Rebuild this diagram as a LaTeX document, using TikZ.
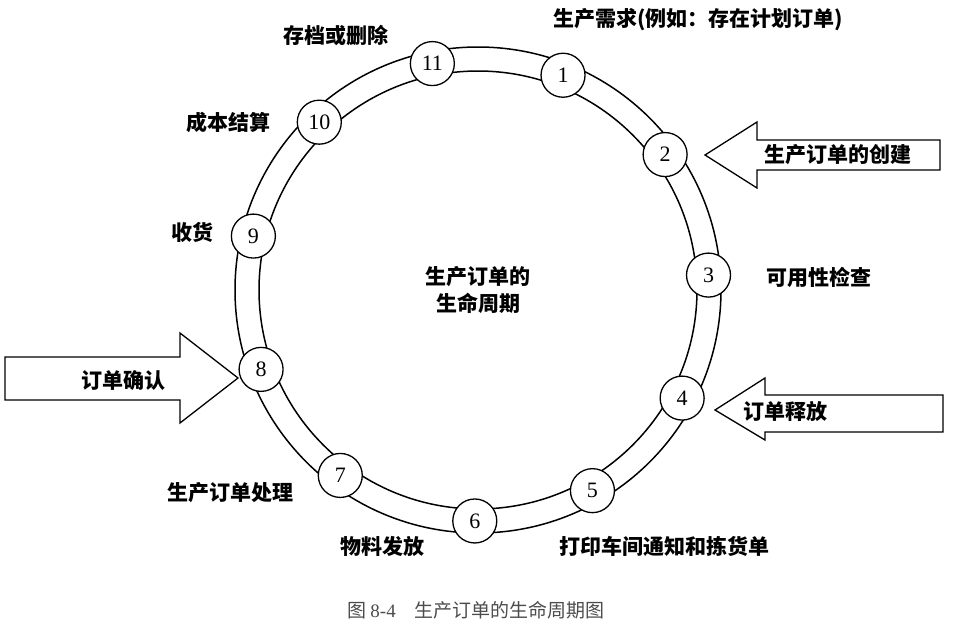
\documentclass[tikz,border=0pt]{standalone}
\usepackage{fontspec}
\usetikzlibrary{calc}
\setmainfont{Noto Sans CJK SC}
\newfontfamily\numfont{Liberation Serif}
\begin{document}
\begin{tikzpicture}[x=1pt,y=-1pt,
  num/.style={circle,draw,line width=1.3pt,fill=white,minimum size=44pt,inner sep=0pt,font=\numfont\fontsize{22}{22}\selectfont},
  lbl/.style={font=\fontsize{21}{21}\selectfont\bfseries,inner sep=0pt},
  arr/.style={draw,line width=1.3pt,fill=white}]
\useasboundingbox (0,0) rectangle (953,635);
\coordinate (c) at (478,290);
\draw[line width=1.5pt] (c) circle[radius=243];
\draw[line width=1.5pt] (c) circle[radius=219];
\node[lbl,align=center] (t) at (478,290) {生产订单的\\[6pt]生命周期};
\foreach \n/\a in {1/68.4,2/35.9,3/3.7,4/-27.9,5/-60.3,6/-90.8,7/-126.6,8/-159.9,9/166.5,10/133.4,11/101.4}
  \node[num] (n\n) at ($(c)+(-\a:231)$) {\n};
% arrows
\draw[arr] (705,155) -- (757,122) -- (757,140) -- (940,140) -- (940,170) -- (757,170) -- (757,188) -- cycle;
\draw[arr] (715,410) -- (765,378) -- (765,395) -- (943,395) -- (943,432) -- (765,432) -- (765,440) -- cycle;
\draw[arr] (238,378) -- (180,333) -- (180,357) -- (5,357) -- (5,400) -- (180,400) -- (180,423) -- cycle;
\node[lbl] (l1) at (698,20) {生产需求(例如：存在计划订单)};
\node[lbl] (l2) at (838,155) {生产订单的创建};
\node[lbl] (l3) at (819,277) {可用性检查};
\node[lbl] (l4) at (785,411) {订单释放};
\node[lbl] (l5) at (664,546) {打印车间通知和拣货单};
\node[lbl] (l6) at (382,546) {物料发放};
\node[lbl] (l7) at (230,493) {生产订单处理};
\node[lbl] (l8) at (123,381) {订单确认};
\node[lbl] (l9) at (192,232) {收货};
\node[lbl] (l10) at (228,122) {成本结算};
\node[lbl] (l11) at (336,35) {存档或删除};
\node[font=\fontsize{19}{19}\selectfont,text=black!70,inner sep=0pt] (cap) at (476,610) {图 {\numfont 8-4}\quad 生产订单的生命周期图};
\end{tikzpicture}
\end{document}
